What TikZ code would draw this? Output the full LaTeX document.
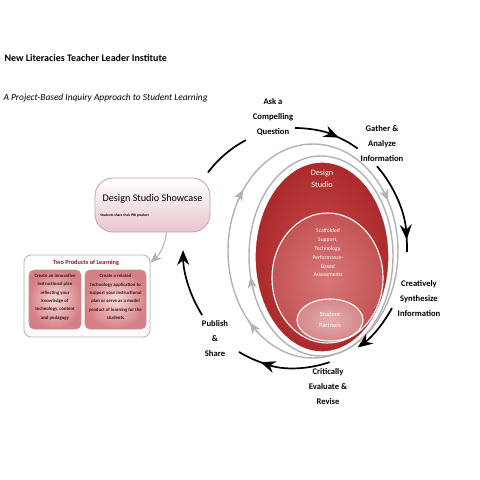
\documentclass[tikz,border=0pt]{standalone}
\usepackage{fontspec}
\setmainfont{Carlito}
\usetikzlibrary{arrows.meta,shapes.geometric}

\definecolor{ringgray}{RGB}{178,178,178}
\definecolor{studiodark}{RGB}{172,42,44}
\definecolor{studiolight}{RGB}{198,74,74}
\definecolor{scafdark}{RGB}{196,84,86}
\definecolor{scaflight}{RGB}{216,118,118}
\definecolor{partdark}{RGB}{212,136,138}
\definecolor{partlight}{RGB}{230,172,172}
\definecolor{boxedge}{RGB}{196,160,166}
\definecolor{boxpink}{RGB}{232,198,204}
\definecolor{prodedge}{RGB}{190,150,152}
\definecolor{prodpink}{RGB}{214,128,134}
\definecolor{prodlight}{RGB}{246,218,218}
\definecolor{prodtitle}{RGB}{140,30,34}
\definecolor{prodtext}{RGB}{58,24,24}

\tikzset{
  cyc/.style={line width=1.7pt, black},
  cyctip/.style={cyc, -{Stealth[length=15pt,width=12pt,inset=5pt]}},
  ringline/.style={line width=1.4pt, draw=ringgray},
  ringtip/.style={ringline, -{Stealth[length=11pt,width=9pt,inset=3pt]}},
  steplbl/.style={font=\fontsize{8.6}{15}\selectfont\bfseries, align=center},
  inlbl/.style={text=white, align=center},
  prodbox/.style={draw=prodedge, line width=0.6pt, rounded corners=5pt,
    inner color=prodlight, outer color=prodpink, minimum height=59pt},
  prodtxt/.style={text=prodtext, align=center,
    font=\fontsize{4.8}{8.3}\selectfont\bfseries}
}

\begin{document}
\begin{tikzpicture}[x=1pt,y=1pt]
  \useasboundingbox (0,0) rectangle (480,-480);

  % headings
  \node[anchor=west, font=\fontsize{10}{11}\selectfont\bfseries] (title)
    at (1,-58) {New Literacies Teacher Leader Institute};
  \node[anchor=west, font=\fontsize{9.4}{11}\selectfont\itshape] (subtitle)
    at (0,-98) {A Project-Based Inquiry Approach to Student Learning};

  % gray rings
  \coordinate (outring) at (313,-251);
  \coordinate (inring) at (321,-256);
  \draw[ringline] (outring) ellipse[x radius=85, y radius=107];
  \draw[ringline] (inring) ellipse[x radius=72, y radius=100];
  \draw[ringtip] (outring) ++(152:85 and 107) arc[start angle=152, end angle=145, x radius=85, y radius=107];
  \draw[ringtip] (outring) ++(229:85 and 107) arc[start angle=229, end angle=222, x radius=85, y radius=107];
  \draw[ringtip] (inring) ++(200:72 and 100) arc[start angle=200, end angle=192, x radius=72, y radius=100];
  \draw[ringtip] (outring) ++(36:85 and 107) arc[start angle=36, end angle=28, x radius=85, y radius=107];

  % nested ellipses
  \node[ellipse, draw=white, line width=1.3pt, inner color=studiolight, outer color=studiodark,
    minimum width=134, minimum height=190] (studio) at (322,-257) {};
  \node[ellipse, draw=white, line width=1.1pt, inner color=scaflight, outer color=scafdark,
    minimum width=111, minimum height=130] (scaffold) at (327.5,-278) {};
  \node[ellipse, draw=white, line width=1.1pt, inner color=partlight, outer color=partdark,
    minimum width=66, minimum height=42] (partners) at (330,-320) {};
  \node[inlbl, font=\fontsize{8.2}{12}\selectfont] (studiolbl) at (322,-179) {Design\\Studio};
  \node[inlbl, font=\fontsize{5.6}{8.8}\selectfont] (scaffoldlbl) at (328,-253)
    {Scaffolded\\Support,\\Technology,\\Performance-\\Based\\Assessments};
  \node[inlbl, font=\fontsize{6.4}{11}\selectfont] (partnerslbl) at (330,-320) {Student\\Partners};

  % cycle steps
  \node[steplbl] (ask) at (273,-117) {Ask a\\Compelling\\Question};
  \node[steplbl] (gather) at (382,-144) {Gather \&\\Analyze\\Information};
  \node[steplbl] (synth) at (419,-299) {Creatively\\Synthesize\\Information};
  \node[steplbl] (evaluate) at (328,-387) {Critically\\Evaluate \&\\Revise};
  \node[steplbl] (publish) at (215,-339) {Publish\\\&\\Share};

  % black cycle arrows
  \coordinate (loop) at (295,-248);
  \draw[cyc] (loop) ++(141:112 and 120) arc[start angle=141, end angle=116, x radius=112, y radius=120];
  \draw[cyctip] (loop) ++(90:112 and 120) arc[start angle=90, end angle=67, x radius=112, y radius=120];
  \draw[cyc] (loop) ++(71:112 and 120) arc[start angle=71, end angle=56, x radius=112, y radius=120];
  \draw[cyctip] (loop) ++(43:112 and 120) arc[start angle=43, end angle=4, x radius=112, y radius=120];
  \draw[cyc] (loop) ++(7:112 and 120) arc[start angle=7, end angle=-2, x radius=112, y radius=120];
  \draw[cyctip] (loop) ++(-30:112 and 120) arc[start angle=-30, end angle=-56, x radius=112, y radius=120];
  \draw[cyctip] (loop) ++(-72:112 and 120) arc[start angle=-72, end angle=-108, x radius=112, y radius=120];
  \draw[cyc] (loop) ++(-105:112 and 120) arc[start angle=-105, end angle=-120, x radius=112, y radius=120];
  \draw[cyctip] (loop) ++(214:112 and 120) arc[start angle=214, end angle=181, x radius=112, y radius=120];

  % showcase
  \node[draw=boxedge, line width=0.8pt, rounded corners=18pt, top color=white, bottom color=boxpink,
    minimum width=115, minimum height=54] (showcase) at (152.5,-205) {};
  \node[font=\fontsize{10.2}{11}\selectfont] (showtitle) at (152.5,-199) {Design Studio Showcase};
  \node[font=\fontsize{3.6}{4}\selectfont\bfseries] (showtext) at (125,-216) {Students share their PBI product.};

  % two products of learning
  \node[draw=ringgray, line width=0.8pt, rounded corners=7pt, top color=white, bottom color=white!92!boxpink,
    minimum width=126, minimum height=82] (products) at (87,-296) {};
  \node[text=prodtitle, font=\fontsize{6.3}{7}\selectfont\bfseries] (prodtitle) at (86,-263) {Two Products of Learning};
  \node[prodbox, minimum width=52] (plan) at (55,-299.5) {};
  \node[prodbox, minimum width=61] (tech) at (115.5,-299.5) {};
  \node[prodtxt] (plantxt) at (55,-297) {Create an innovative\\instructional plan\\reflecting your\\knowledge of\\technology, content\\and pedagogy};
  \node[prodtxt] (techtxt) at (115.5,-297) {Create a related\\technology application to\\support your instructional\\plan or serve as a model\\product of learning for the\\students};

  \draw[ringtip, line width=1pt] ([xshift=14pt]showcase.south) to[bend left=20] ([yshift=-8pt]products.north east);
\end{tikzpicture}
\end{document}
